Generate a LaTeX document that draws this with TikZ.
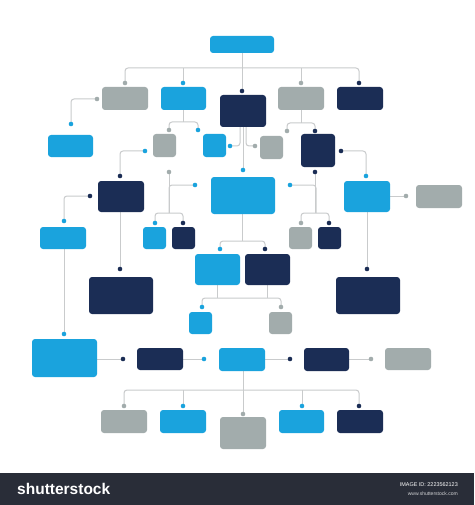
\documentclass[tikz,border=0pt]{standalone}
\usepackage{fontspec}
\setmainfont{Liberation Sans}
\usetikzlibrary{backgrounds}
\definecolor{cL}{HTML}{1AA3DD}
\definecolor{cD}{HTML}{1B2D55}
\definecolor{cG}{HTML}{A2ACAC}
\definecolor{cW}{HTML}{C9CBCC}
\definecolor{cBar}{HTML}{292D38}
\newcommand\bx[6]{\node[box,fill=#6,minimum width={(#4)-(#2)},minimum height={(#5)-(#3)}] (#1) at ({((#2)+(#4))/2},{((#3)+(#5))/2}) {};}
\newcommand\dt[4]{\node[dotn,fill=#4] (#1) at (#2,#3) {};}
\begin{document}
\begin{tikzpicture}[x=1pt,y=-1pt,
 box/.style={rectangle,rounded corners=3pt,inner sep=0pt,outer sep=0pt,draw=none},
 dotn/.style={circle,inner sep=0pt,minimum size=4.6pt,draw=none},
 ln/.style={draw=cW,line width=1pt,rounded corners=3pt}]
\useasboundingbox (0,0) rectangle (474,505);
% boxes
\bx{t}{210}{36}{274}{53}{cL}
\bx{g1}{102}{87}{148}{110}{cG}
\bx{k}{161}{87}{206}{110}{cL}
\bx{dc}{220}{95}{266}{127}{cD}
\bx{g2}{278}{87}{324}{110}{cG}
\bx{d3}{337}{87}{383}{110}{cD}
\bx{lb1}{48}{135}{93}{157}{cL}
\bx{gs1}{153}{134}{176}{157}{cG}
\bx{ls1}{203}{134}{226}{157}{cL}
\bx{gs2}{260}{136}{283}{159}{cG}
\bx{ds2}{301}{134}{335}{167}{cD}
\bx{dl}{98}{181}{144}{212}{cD}
\bx{cl}{211}{177}{275}{214}{cL}
\bx{rl}{344}{181}{390}{212}{cL}
\bx{rg}{416}{185}{462}{208}{cG}
\bx{ll}{40}{227}{86}{249}{cL}
\bx{ls2}{143}{227}{166}{249}{cL}
\bx{ds3}{172}{227}{195}{249}{cD}
\bx{gs3}{289}{227}{312}{249}{cG}
\bx{ds4}{318}{227}{341}{249}{cD}
\bx{ml}{195}{254}{240}{285}{cL}
\bx{md}{245}{254}{290}{285}{cD}
\bx{bdl}{89}{277}{153}{314}{cD}
\bx{bdr}{336}{277}{400}{314}{cD}
\bx{ls4}{189}{312}{212}{334}{cL}
\bx{gs4}{269}{312}{292}{334}{cG}
\bx{bl}{32}{339}{97}{377}{cL}
\bx{rd1}{137}{348}{183}{370}{cD}
\bx{rc}{219}{348}{265}{371}{cL}
\bx{rd2}{304}{348}{349}{371}{cD}
\bx{rg2}{385}{348}{431}{370}{cG}
\bx{b1}{101}{410}{147}{433}{cG}
\bx{b2}{160}{410}{206}{433}{cL}
\bx{b3}{220}{417}{266}{449}{cG}
\bx{b4}{279}{410}{324}{433}{cL}
\bx{b5}{337}{410}{383}{433}{cD}
% dots
\dt{a1}{125}{83}{cG}
\dt{a2}{183}{83}{cL}
\dt{a3}{242}{91}{cD}
\dt{a4}{301}{83}{cG}
\dt{a5}{359}{83}{cD}
\dt{e1}{97}{99}{cG}
\dt{e2}{71}{124}{cL}
\dt{f1}{169}{130}{cG}
\dt{f2}{198}{130}{cL}
\dt{h1}{230}{146}{cL}
\dt{h2}{255}{146}{cG}
\dt{h3}{243}{170}{cL}
\dt{i1}{287}{131}{cG}
\dt{i2}{315}{131}{cD}
\dt{j1}{341}{151}{cD}
\dt{j2}{366}{176}{cL}
\dt{m1}{315}{172}{cD}
\dt{m2}{290}{185}{cL}
\dt{m3}{301}{223}{cG}
\dt{m4}{329}{223}{cD}
\dt{n1}{406}{196}{cG}
\dt{n2}{367}{269}{cD}
\dt{p1}{120}{176}{cD}
\dt{p2}{145}{151}{cL}
\dt{q1}{90}{196}{cD}
\dt{q2}{64}{221}{cL}
\dt{q3}{120}{269}{cD}
\dt{r1}{169}{172}{cG}
\dt{r2}{195}{185}{cL}
\dt{r3}{155}{223}{cL}
\dt{r4}{183}{223}{cD}
\dt{s1}{220}{249}{cL}
\dt{s2}{265}{249}{cD}
\dt{u1}{202}{307}{cL}
\dt{u2}{281}{307}{cG}
\dt{v1}{64}{334}{cL}
\dt{v2}{123}{359}{cD}
\dt{v3}{204}{359}{cL}
\dt{v4}{290}{359}{cD}
\dt{v5}{371}{359}{cG}
\dt{w0}{243}{414}{cG}
\dt{w1}{124}{406}{cG}
\dt{w2}{183}{406}{cL}
\dt{w3}{302}{406}{cL}
\dt{w4}{359}{406}{cD}
% bus coordinates
\coordinate (busA) at (242,68);
\coordinate (busK) at (183,122);
\coordinate (busG) at (301,123);
\coordinate (busM) at (316,213);
\coordinate (busR) at (169,213);
\coordinate (busC) at (242,241);
\coordinate (busU) at (242,298);
\coordinate (busW) at (243,390);
\begin{scope}[on background layer]
\fill[white] (0,0) rectangle (474,505);
\draw[ln] (t.south -| a3) -- (a3.center);
\draw[ln] (a1.center) -- (a1 |- busA) -- (a5 |- busA) -- (a5.center);
\draw[ln] (a2.center) -- (a2 |- busA);
\draw[ln] (a4.center) -- (a4 |- busA);
\draw[ln] (e1.center) -| (e2.center);
\draw[ln] (k.south -| busK) -- (busK);
\draw[ln] (f1.center) |- (busK) -| (f2.center);
\draw[ln] (dc.south -| h3) -- (h3.center);
\draw[ln] ([xshift=-3pt]dc.south -| h3) |- (h1.center);
\draw[ln] ([xshift=3pt]dc.south -| h3) |- (h2.center);
\draw[ln] (g2.south -| busG) -- (busG);
\draw[ln] (i1.center) |- (busG) -| (i2.center);
\draw[ln] (j1.center) -| (j2.center);
\draw[ln] (m1.center) -- (m1 |- busM);
\draw[ln] (m2.center) -| (busM);
\draw[ln] (m3.center) |- (busM) -| (m4.center);
\draw[ln] (rl.east |- n1) -- (n1.center);
\draw[ln] (rl.south -| n2) -- (n2.center);
\draw[ln] (p1.center) |- (p2.center);
\draw[ln] (q1.center) -| (q2.center);
\draw[ln] (dl.south -| q3) -- (q3.center);
\draw[ln] (r1.center) -- (busR);
\draw[ln] (r2.center) -| (busR);
\draw[ln] (r3.center) |- (busR) -| (r4.center);
\draw[ln] (cl.south -| busC) -- (busC);
\draw[ln] (s1.center) |- (busC) -| (s2.center);
\draw[ln] (ml.south) -- (ml.south |- busU);
\draw[ln] (md.south) -- (md.south |- busU);
\draw[ln] (u1.center) |- (busU) -| (u2.center);
\draw[ln] (ll.south -| v1) -- (v1.center);
\draw[ln] (bl.east |- v2) -- (v2.center);
\draw[ln] (rd1.east |- v3) -- (v3.center);
\draw[ln] (rc.east |- v4) -- (v4.center);
\draw[ln] (rd2.east |- v5) -- (v5.center);
\draw[ln] (rc.south -| w0) -- (w0.center);
\draw[ln] (w1.center) |- (busW) -| (w4.center);
\draw[ln] (w2.center) -- (w2 |- busW);
\draw[ln] (w3.center) -- (w3 |- busW);
\end{scope}
% bottom bar
\fill[cBar] (0,473) rectangle (474,505);
\node[anchor=west,text=white,inner sep=0pt] (logo) at (17,489) {\resizebox{93pt}{!}{\bfseries shutterstock}};
\node[anchor=east,text=white,inner sep=0pt] (imgid) at (458,485) {\resizebox{58pt}{!}{IMAGE ID: 2223562123}};
\node[anchor=east,text=white!80!cBar,inner sep=0pt] (www) at (458,494) {\resizebox{50pt}{!}{www.shutterstock.com}};
\end{tikzpicture}
\end{document}
